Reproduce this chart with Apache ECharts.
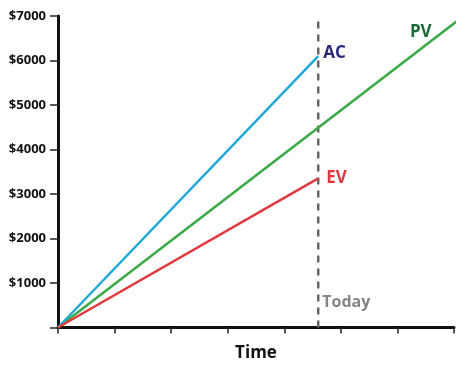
<!DOCTYPE html>
<html>
<head>
<meta charset="utf-8">
<script src="https://cdn.jsdelivr.net/npm/echarts@6/dist/echarts.min.js"></script>
<style>html,body{margin:0;padding:0;background:#fff}#c{width:474px;height:368px}</style>
</head>
<body>
<div id="c"></div>
<script>
// Data
const xTicks = [0, 1, 2, 3, 4, 5, 6, 7];
const yTicks = [0, 1000, 2000, 3000, 4000, 5000, 6000, 7000];
const todayX = 4.6;
const acData = [[0, 0], [4.6, 6100]];
const evData = [[0, 0], [4.6, 3350]];
const pvData = [[0, 0], [7.17, 7000]];
const todayData = [[4.6, 0], [4.6, 7000]];

const font = '"Open Sans", "Noto Sans", sans-serif';
const chart = echarts.init(document.getElementById('c'));
chart.setOption({
  animation: false,
  grid: { left: 58, right: 20, top: 16, bottom: 40.5 },
  xAxis: {
    type: 'value', min: xTicks[0], max: xTicks[xTicks.length - 1], interval: 1,
    name: 'Time', nameLocation: 'middle', nameGap: 17,
    nameTextStyle: { fontFamily: font, fontWeight: 'bold', fontSize: 17, color: '#111' },
    axisLine: { show: true, lineStyle: { color: '#111', width: 3 } },
    axisTick: { show: true, length: 6, lineStyle: { color: '#222', width: 1.5 } },
    axisLabel: { show: false },
    splitLine: { show: false }
  },
  yAxis: {
    type: 'value', min: yTicks[0], max: yTicks[yTicks.length - 1], interval: 1000,
    axisLine: { show: true, lineStyle: { color: '#111', width: 3 } },
    axisTick: { show: true, length: 8, lineStyle: { color: '#222', width: 1.5 } },
    axisLabel: {
      fontFamily: font, fontWeight: 'bold', fontSize: 13, color: '#111', margin: 12,
      formatter: v => v === 0 ? '' : '$' + v
    },
    splitLine: { show: false }
  },
  series: [
    {
      type: 'line', data: todayData, symbol: 'circle', symbolSize: 0, clip: false,
      lineStyle: { color: '#666', width: 2.5, type: [7, 6] },
      label: {
        show: true, formatter: p => p.dataIndex === 0 ? 'Today' : '',
        position: 'right', distance: 4, offset: [0, -25],
        fontFamily: font, fontWeight: 'bold', fontSize: 16, color: '#858585'
      }
    },
    {
      type: 'line', data: pvData, symbol: 'circle', symbolSize: 0, clip: false,
      lineStyle: { color: '#3aaa48', width: 2.5 },
      label: {
        show: true, formatter: p => p.dataIndex === 1 ? 'PV' : '',
        position: 'left', distance: 32, offset: [0, 16],
        fontFamily: font, fontWeight: 'bold', fontSize: 17, color: '#1b6b38'
      }
    },
    {
      type: 'line', data: acData, symbol: 'circle', symbolSize: 0, clip: false,
      lineStyle: { color: '#1fa8d8', width: 2.5 },
      label: {
        show: true, formatter: p => p.dataIndex === 1 ? 'AC' : '',
        position: 'right', distance: 5, offset: [0, -3],
        fontFamily: font, fontWeight: 'bold', fontSize: 17, color: '#2b2a7c'
      }
    },
    {
      type: 'line', data: evData, symbol: 'circle', symbolSize: 0, clip: false,
      lineStyle: { color: '#e0393e', width: 2.5 },
      label: {
        show: true, formatter: p => p.dataIndex === 1 ? 'EV' : '',
        position: 'right', distance: 8, offset: [0, 0],
        fontFamily: font, fontWeight: 'bold', fontSize: 17, color: '#dc3a3f'
      }
    }
  ]
});
</script>
</body>
</html>
